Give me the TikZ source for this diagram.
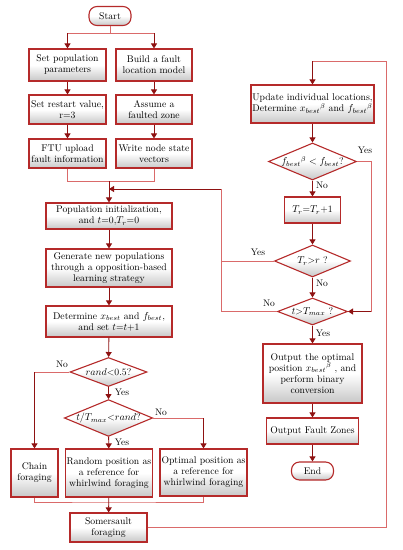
\documentclass[tikz,border=0pt]{standalone}
\usetikzlibrary{shapes.geometric,arrows.meta}
\definecolor{boxred}{HTML}{B52A2A}
\definecolor{darkr}{HTML}{8E1212}
\definecolor{lightr}{HTML}{DA6A6A}
\newcommand{\xb}{x_{best}{}^{\beta}}
\newcommand{\fb}{f_{best}{}^{\beta}}
\begin{document}
\begin{tikzpicture}[x=1pt,y=-1pt,
  font=\fontsize{9.7}{11}\selectfont,
  base/.style={draw=boxred,line width=1.1pt,top color=white,bottom color=black!22,middle color=white,align=center,inner sep=1pt},
  box/.style={base,rectangle},
  term/.style={base,rectangle,rounded corners=8pt},
  dia/.style={base,diamond,shape aspect=#1,inner sep=0pt},
  link/.style={draw=lightr,line width=0.8pt},
  arr/.style={draw=darkr,line width=0.9pt,-{Triangle[length=5pt,width=6pt,fill=darkr]}},
  lbl/.style={font=\fontsize{9.5}{10}\selectfont,inner sep=0pt}]
\useasboundingbox (0,0) rectangle (403,550);
% left column top
\node[term,minimum width=42pt,minimum height=19pt] (start) at (110,16) {Start};
\node[box,minimum width=77pt,minimum height=32pt] (p1) at (67.5,65) {Set population\\parameters};
\node[box,minimum width=76pt,minimum height=32pt] (b1) at (154,65) {Build a fault\\location model};
\node[box,minimum width=77pt,minimum height=29pt] (p2) at (67.5,109.5) {Set restart value,\\r=3};
\node[box,minimum width=76pt,minimum height=29pt] (b2) at (154,109.5) {Assume a\\faulted zone};
\node[box,minimum width=77pt,minimum height=29pt] (p3) at (67.5,153.5) {FTU upload\\fault information};
\node[box,minimum width=76pt,minimum height=29pt] (b3) at (154,153.5) {Write node state\\vectors};
% main column
\node[box,minimum width=126pt,minimum height=26pt] (init) at (109,216) {Population initialization,\\and $t$=0,$T_r$=0};
\node[box,minimum width=126pt,minimum height=38pt] (gen) at (109,268) {Generate new populations\\through a opposition-based\\learning strategy};
\node[box,minimum width=126pt,minimum height=31pt] (det) at (109,321.5) {Determine $x_{best}$ and $f_{best}$,\\and set $t$=$t$+1};
\node[dia=2.6,minimum width=77pt,minimum height=29pt] (d1) at (108.5,372) {$rand$<0.5?};
\node[dia=2.4,minimum width=78pt,minimum height=33pt] (d2) at (108.5,418) {$t/T_{max}$<$rand$?};
\node[box,minimum width=47pt,minimum height=48pt] (chain) at (34.5,473) {Chain\\foraging};
\node[box,minimum width=86pt,minimum height=48pt] (rnd) at (109,473) {Random position as\\a reference for\\whirlwind foraging};
\node[box,minimum width=87pt,minimum height=47pt] (opt) at (203.5,472.5) {Optimal position as\\a reference for\\whirlwind foraging};
\node[box,minimum width=77pt,minimum height=29pt] (som) at (108.5,527.5) {Somersault\\foraging};
% right column
\node[box,minimum width=123pt,minimum height=38pt] (upd) at (312.5,104) {Update individual locations,\\Determine $\xb$ and $\fb$};
\node[dia=2.4,minimum width=88pt,minimum height=37pt] (d3) at (312.5,161.5) {$\fb<f_{best}$?};
\node[box,minimum width=56pt,minimum height=26pt] (inc) at (312.5,210) {$T_r$=$T_r$+1};
\node[dia=2.4,minimum width=76pt,minimum height=32pt] (d4) at (312.5,261) {$T_r$>$r$ ?};
\node[dia=2.6,minimum width=70pt,minimum height=27pt] (d5) at (312.5,311.5) {$t$>$T_{max}$ ?};
\node[box,minimum width=99pt,minimum height=59pt] (outopt) at (312.5,373.5) {Output the optimal\\position $\xb$ , and\\perform binary\\conversion};
\node[box,minimum width=92pt,minimum height=26pt] (outfz) at (312.5,431) {Output Fault Zones};
\node[term,minimum width=42pt,minimum height=18pt] (end) at (312.5,471) {End};
% coordinates
\coordinate (s0) at (110,33);
\coordinate (s1) at (67.5,33);
\coordinate (s2) at (154,33);
\coordinate (m1) at (109,181);
\coordinate (r1) at (109,189);
\coordinate (c0) at (221,189);
\coordinate (c4) at (221,261);
\coordinate (c5) at (221,311.5);
\coordinate (n1) at (34.5,372);
\coordinate (n2) at (203.5,418);
\coordinate (m2) at (109,502);
\coordinate (q1) at (386,527.5);
\coordinate (q2) at (386,61);
\coordinate (q3) at (312.5,61);
\coordinate (y1) at (371,161.5);
\coordinate (y2) at (371,311.5);
% connectors top
\draw[link] (start.south) -- (s0);
\draw[link] (s1) -- (s2);
\draw[arr] (s1) -- (p1.north);
\draw[arr] (s2) -- (b1.north);
\draw[arr] (p1) -- (p2);
\draw[arr] (p2) -- (p3);
\draw[arr] (b1) -- (b2);
\draw[arr] (b2) -- (b3);
\draw[link] (p3.south) |- (m1);
\draw[link] (b3.south) |- (m1);
\draw[arr] (m1) -- (init.north);
\draw[link] (d5.west) -- (c5) -- (c0);
\draw[link] (d4.west) -- (c4);
\draw[arr] (c0) -- (r1);
% main column
\draw[arr] (init) -- (gen);
\draw[arr] (gen) -- (det);
\draw[arr] (det) -- (d1);
\draw[link] (d1.west) -- (n1);
\draw[arr] (n1) -- (chain.north);
\draw[arr] (d1) -- (d2);
\draw[arr] (d2) -- (rnd);
\draw[link] (d2.east) -- (n2);
\draw[arr] (n2) -- (opt.north);
\draw[link] (chain.south) |- (m2) -| (opt.south);
\draw[arr] (rnd) -- (som);
\draw[link] (som.east) -- (q1) -- (q2) -- (q3);
\draw[arr] (q3) -- (upd.north);
% right column
\draw[arr] (upd) -- (d3);
\draw[arr] (d3) -- (inc);
\draw[link] (d3.east) -- (y1) -- (y2);
\draw[arr] (y2) -- (d5.east);
\draw[arr] (inc) -- (d4);
\draw[arr] (d4) -- (d5);
\draw[arr] (d5) -- (outopt);
\draw[arr] (outopt) -- (outfz);
\draw[arr] (outfz) -- (end);
% labels
\node[lbl] (l1) at (62,364) {No};
\node[lbl] (l2) at (122,392) {Yes};
\node[lbl] (l3) at (122,442) {Yes};
\node[lbl] (l4) at (161,412) {No};
\node[lbl] (l5) at (365,150) {Yes};
\node[lbl] (l6) at (322,185) {No};
\node[lbl] (l7) at (258,252) {Yes};
\node[lbl] (l8) at (322,283) {No};
\node[lbl] (l9) at (269,303) {No};
\node[lbl] (l10) at (323,333) {Yes};
\end{tikzpicture}
\end{document}
